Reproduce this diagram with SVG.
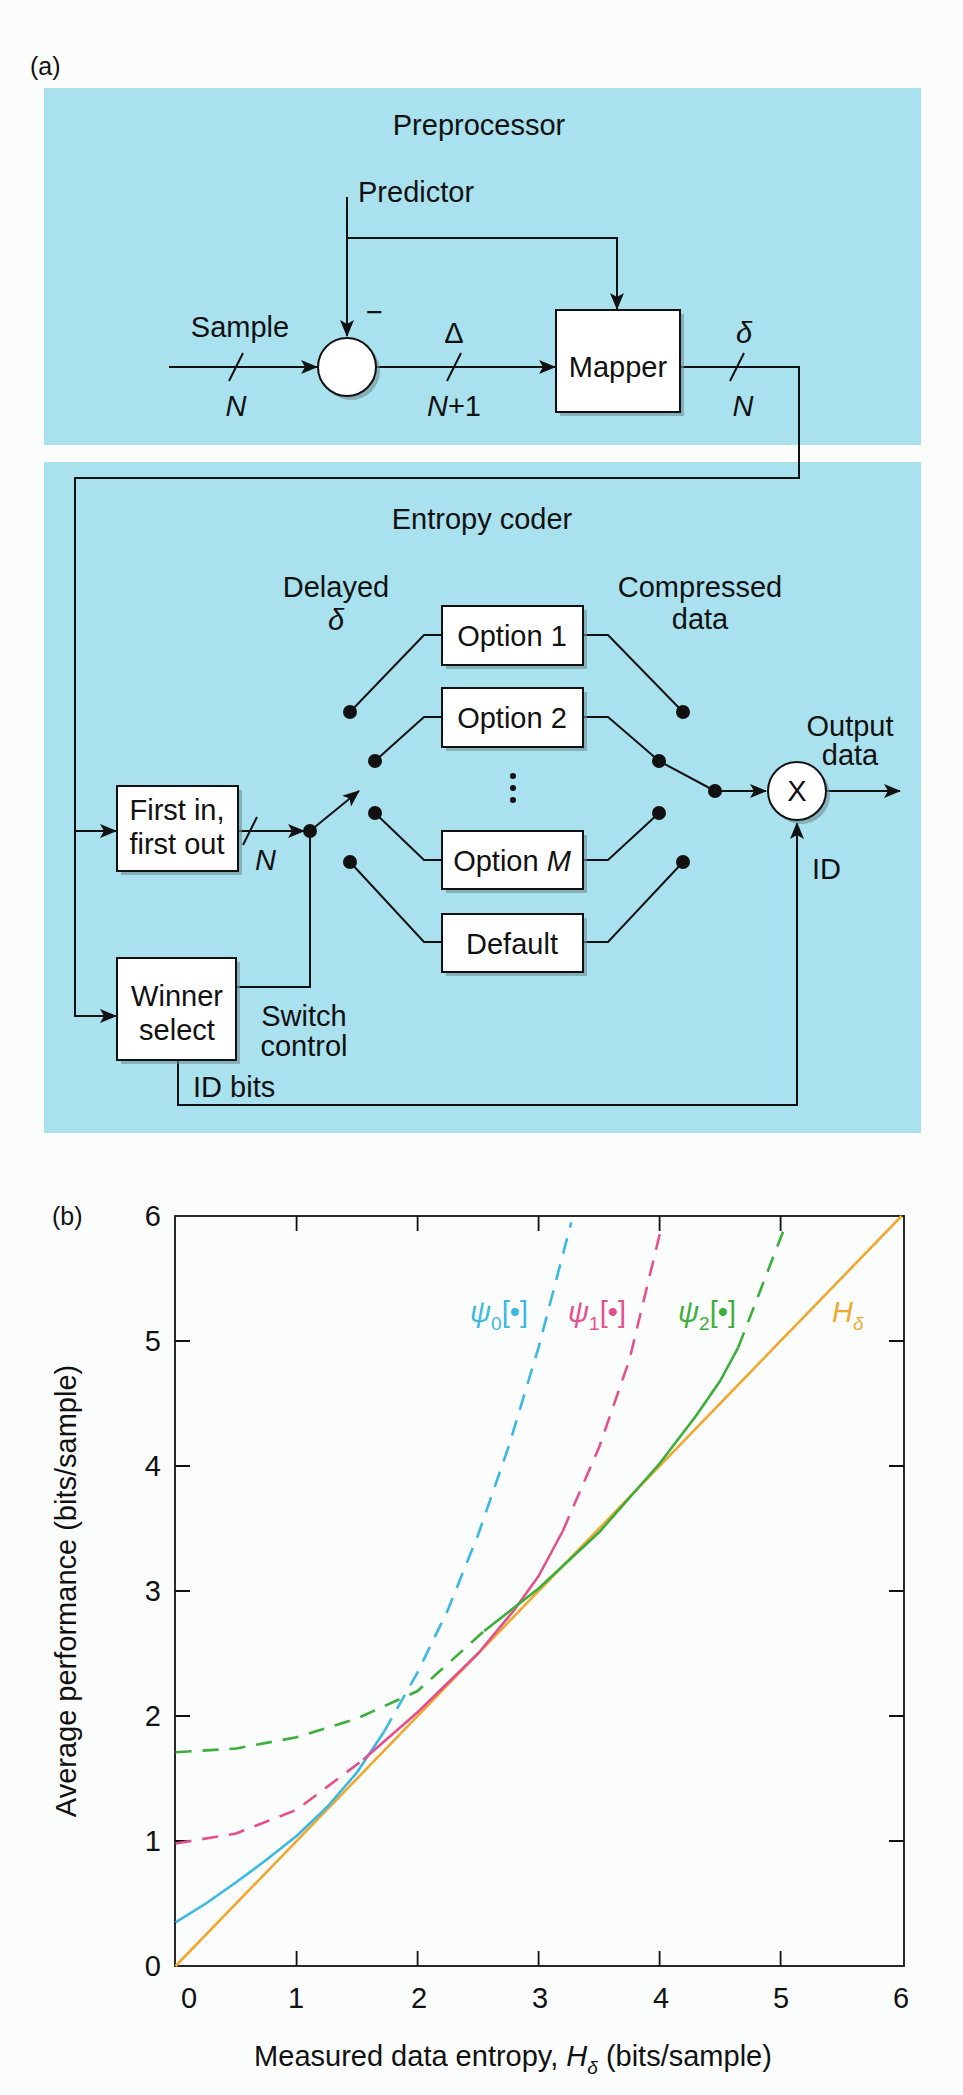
<svg xmlns="http://www.w3.org/2000/svg" width="963" height="2095" viewBox="0 0 963 2095">
<style>
text{font-family:"Liberation Sans",Arial,sans-serif;font-size:29px;fill:#111}
.c{text-anchor:middle}
.i{font-style:italic}
.ln{fill:none;stroke:#111;stroke-width:2}
.box{fill:#fff;stroke:#111;stroke-width:2}
.sh{fill:#6f8f96;opacity:0.6}
.panel{fill:#a9e1ee}
.dot{fill:#111}
.ax{fill:none;stroke:#111;stroke-width:1.8}
.cur{fill:none;stroke-width:2.6;stroke-linejoin:round}
.d{stroke-dasharray:16 11}
</style>
<defs>
<marker id="ar" markerUnits="userSpaceOnUse" markerWidth="18" markerHeight="14" refX="16" refY="7" orient="auto"><path d="M0,0 L17,7 L0,14 L4,7 Z" fill="#111"/></marker>
</defs>
<rect width="963" height="2095" fill="#fbfcfc"/>
<text x="30" y="75" style="font-size:25px">(a)</text>
<rect class="panel" x="44" y="88" width="877" height="357"/>
<rect class="panel" x="44" y="462" width="877" height="671"/>
<text class="c" x="479" y="135">Preprocessor</text>
<text class="c" x="482" y="529">Entropy coder</text>

<g id="connectors">
<path class="ln" d="M347,197 V336" marker-end="url(#ar)"/>
<path class="ln" d="M347,238 H617 V309" marker-end="url(#ar)"/>
<path class="ln" d="M169,367 H317" marker-end="url(#ar)"/>
<path class="ln" d="M376,367 H555" marker-end="url(#ar)"/>
<path class="ln" d="M680,367 H799 V478 H75 V1016 H116" marker-end="url(#ar)"/>
<path class="ln" d="M75,831 H116" marker-end="url(#ar)"/>
<path class="ln" d="M238,831 H304" marker-end="url(#ar)"/>
<path class="ln" d="M236,987 H310 V831"/>
<path class="ln" d="M310,831 L359,791" marker-end="url(#ar)"/>
<path class="ln" d="M178,1060 V1105 H797 V823" marker-end="url(#ar)"/>
<path class="ln" d="M350,712 L424,635 H442 M583,635 H608 L683,712"/>
<path class="ln" d="M375,761 L424,717 H442 M583,717 H608 L659,761 L715,791"/>
<path class="ln" d="M375,813 L424,860 H442 M583,860 H608 L659,813"/>
<path class="ln" d="M350,862 L424,942 H442 M583,942 H608 L683,862"/>
<path class="ln" d="M715,791 H766" marker-end="url(#ar)"/>
<path class="ln" d="M826,791 H900" marker-end="url(#ar)"/>
<path class="ln" d="M229,381 L243,353 M447,381 L461,353 M730,381 L744,353 M243,845 L257,817"/>
</g>

<g id="subtract"><circle cx="351" cy="371" r="29" class="sh"/><circle cx="347" cy="367" r="29" class="box"/></g>
<g id="mapper"><rect x="560" y="314" width="124" height="102" class="sh"/><rect x="556" y="310" width="124" height="102" class="box"/><text class="c" x="618" y="377">Mapper</text></g>
<g id="fifo"><rect x="121" y="790" width="121" height="85" class="sh"/><rect x="117" y="786" width="121" height="85" class="box"/><text class="c" x="177" y="820">First in,</text><text class="c" x="177" y="854">first out</text></g>
<g id="winner"><rect x="121" y="962" width="119" height="102" class="sh"/><rect x="117" y="958" width="119" height="102" class="box"/><text class="c" x="177" y="1006">Winner</text><text class="c" x="177" y="1040">select</text></g>
<g id="opt1"><rect x="446" y="610" width="141" height="59" class="sh"/><rect x="442" y="606" width="141" height="59" class="box"/><text class="c" x="512" y="646">Option 1</text></g>
<g id="opt2"><rect x="446" y="692" width="141" height="59" class="sh"/><rect x="442" y="688" width="141" height="59" class="box"/><text class="c" x="512" y="728">Option 2</text></g>
<g id="optM"><rect x="446" y="835" width="141" height="58" class="sh"/><rect x="442" y="831" width="141" height="58" class="box"/><text class="c" x="512" y="871">Option <tspan class="i">M</tspan></text></g>
<g id="default"><rect x="446" y="918" width="141" height="58" class="sh"/><rect x="442" y="914" width="141" height="58" class="box"/><text class="c" x="512" y="954">Default</text></g>
<g id="mux"><circle cx="801" cy="795" r="29" class="sh"/><circle cx="797" cy="791" r="29" class="box"/><text class="c" x="797" y="801">X</text></g>
<g id="dots">
<circle class="dot" cx="350" cy="712" r="7"/><circle class="dot" cx="375" cy="761" r="7"/><circle class="dot" cx="375" cy="813" r="7"/><circle class="dot" cx="350" cy="862" r="7"/>
<circle class="dot" cx="683" cy="712" r="7"/><circle class="dot" cx="659" cy="761" r="7"/><circle class="dot" cx="659" cy="813" r="7"/><circle class="dot" cx="683" cy="862" r="7"/>
<circle class="dot" cx="715" cy="791" r="7"/><circle class="dot" cx="310" cy="831" r="7"/>
<circle class="dot" cx="513" cy="776" r="3"/><circle class="dot" cx="513" cy="788" r="3"/><circle class="dot" cx="513" cy="800" r="3"/>
</g>
<g id="labels">
<text x="358" y="202">Predictor</text>
<text x="366" y="322">−</text>
<text class="c" x="240" y="337">Sample</text>
<text class="c i" x="236" y="416">N</text>
<text class="c" x="454" y="343">Δ</text>
<text class="c" x="454" y="416"><tspan class="i">N</tspan>+1</text>
<text class="c i" x="744" y="343">δ</text>
<text class="c i" x="743" y="416">N</text>
<text class="c" x="336" y="597">Delayed</text>
<text class="c i" x="336" y="630">δ</text>
<text class="c" x="700" y="597">Compressed</text>
<text class="c" x="700" y="629">data</text>
<text class="c" x="850" y="736">Output</text>
<text class="c" x="850" y="765">data</text>
<text x="812" y="879">ID</text>
<text class="i" x="255" y="870">N</text>
<text class="c" x="304" y="1026">Switch</text>
<text class="c" x="304" y="1056">control</text>
<text x="193" y="1097">ID bits</text>
</g>

<g id="chart">
<text x="52" y="1225" style="font-size:25px">(b)</text>
<rect class="ax" x="175" y="1216" width="729" height="750"/>
<path class="ax" d="M296.6,1966v-15M417.6,1966v-15M538.6,1966v-15M659.6,1966v-15M780.6,1966v-15M296.6,1216v15M417.6,1216v15M538.6,1216v15M659.6,1216v15M780.6,1216v15M175,1841h15M175,1716h15M175,1591h15M175,1466h15M175,1341h15M904,1841h-15M904,1716h-15M904,1591h-15M904,1466h-15M904,1341h-15"/>
<g style="text-anchor:end">
<text x="161" y="1976">0</text><text x="161" y="1851">1</text><text x="161" y="1726">2</text><text x="161" y="1601">3</text><text x="161" y="1476">4</text><text x="161" y="1351">5</text><text x="161" y="1226">6</text>
</g>
<text class="c" x="189" y="2008">0</text><text class="c" x="296" y="2008">1</text><text class="c" x="419" y="2008">2</text><text class="c" x="540" y="2008">3</text><text class="c" x="661" y="2008">4</text><text class="c" x="781" y="2008">5</text><text class="c" x="901" y="2008">6</text>
<text class="c" transform="translate(76,1591) rotate(-90)">Average performance (bits/sample)</text>
<text class="c" x="513" y="2066">Measured data entropy, <tspan class="i">H</tspan><tspan class="i" style="font-size:19px" dy="8">δ</tspan><tspan dy="-8"> (bits/sample)</tspan></text>

<path class="cur" stroke="#f0a830" d="M175.6,1966 L901.6,1216"/>
<path class="cur" stroke="#3cb8e2" d="M175.6,1922.3 L205.9,1903.5 L236.1,1882.3 L266.4,1859.8 L296.6,1836 L326.9,1807.3 L357.1,1772.3 L383.7,1732.3"/>
<path class="cur d" stroke="#3cb8e2" d="M383.7,1732.3 L417.6,1672.3 L447.9,1609.8 L478.1,1534.8 L508.4,1447.3 L538.6,1347.3 L571.3,1222.3"/>
<path class="cur d" stroke="#e4508c" d="M175.6,1843.5 L236.1,1833.5 L296.6,1809.8 L363.2,1759.8"/>
<path class="cur" stroke="#e4508c" d="M363.2,1759.8 L417.6,1712.3 L478.1,1653.5 L514.4,1609.8 L538.6,1576 L562.8,1531"/>
<path class="cur d" stroke="#e4508c" d="M562.8,1531 L599.1,1447.3 L629.4,1359.8 L662,1224.8"/>
<path class="cur d" stroke="#3cae3a" d="M175.6,1752.3 L236.1,1748.5 L296.6,1737.3 L357.1,1718.5 L417.6,1691 L484.2,1631"/>
<path class="cur" stroke="#3cae3a" d="M484.2,1631 L538.6,1588.5 L599.1,1532.3 L659.6,1463.5 L695.9,1416 L720.1,1381 L738.3,1347.3"/>
<path class="cur d" stroke="#3cae3a" d="M738.3,1347.3 L762.5,1284.8 L786.7,1222.3"/>
<text x="470" y="1322" style="fill:#3cb8e2"><tspan class="i">ψ</tspan><tspan dy="8" style="font-size:19px">0</tspan><tspan dy="-8">[•]</tspan></text>
<text x="568" y="1322" style="fill:#e4508c"><tspan class="i">ψ</tspan><tspan dy="8" style="font-size:19px">1</tspan><tspan dy="-8">[•]</tspan></text>
<text x="678" y="1322" style="fill:#3cae3a"><tspan class="i">ψ</tspan><tspan dy="8" style="font-size:19px">2</tspan><tspan dy="-8">[•]</tspan></text>
<text x="832" y="1322" style="fill:#f0a830"><tspan class="i">H</tspan><tspan class="i" dy="8" style="font-size:19px">δ</tspan></text>
</g>
</svg>
